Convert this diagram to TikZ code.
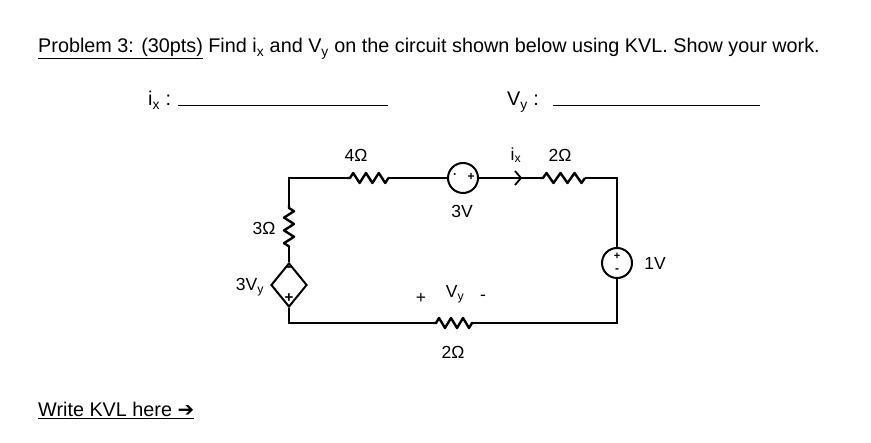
\documentclass[tikz,border=0pt]{standalone}
\usepackage{fontspec}
\setmainfont{Liberation Sans}
\newfontfamily\djv{DejaVu Sans}
\usetikzlibrary{arrows.meta,calc,shapes.geometric}
\begin{document}
\begin{tikzpicture}[x=1pt,y=-1pt,line width=2.4pt,
  lbl/.style={font=\fontsize{17.5}{19}\selectfont,inner sep=0pt},
  big/.style={font=\fontsize{19.8}{23}\selectfont,inner sep=0pt,anchor=base west},
  src/.style={circle,draw,line width=2pt,minimum size=30pt,inner sep=0pt},
  dep/.style={draw,line width=2pt,minimum width=36pt,minimum height=44pt,inner sep=0pt,shape=diamond,aspect=0.82}]
\useasboundingbox (0,0) rectangle (871,443);
% corners
\coordinate (tl) at (289,178);
\coordinate (tr) at (617,178);
\coordinate (bl) at (289,323);
\coordinate (br) at (617,323);
\coordinate (r1a) at (347,178); \coordinate (r1b) at (388,178);
\coordinate (r2a) at (540,178); \coordinate (r2b) at (585,178);
\coordinate (r3a) at (289,205); \coordinate (r3b) at (289,247);
\coordinate (r4a) at (433,323); \coordinate (r4b) at (473,323);
\node[src] (s3) at (463,178) {};
\node[src] (s1) at (617,263) {};
\node[dep] (d) at (289,285) {};
% zigzags
\draw[line join=round] (r1a) -- ++(3,0) \foreach \i in {0,...,5}{ -- ++(3.2,{ifthenelse(mod(\i,2)==0,-5,5)}) -- ++(3.2,{ifthenelse(mod(\i,2)==0,5,-5)})} -- (r1b);
\draw[line join=round] (r2a) -- ++(3,0) \foreach \i in {0,...,5}{ -- ++(3.5,{ifthenelse(mod(\i,2)==0,-5,5)}) -- ++(3.5,{ifthenelse(mod(\i,2)==0,5,-5)})} -- (r2b);
\draw[line join=round] (r4a) -- ++(3,0) \foreach \i in {0,...,5}{ -- ++(3.0,{ifthenelse(mod(\i,2)==0,-5,5)}) -- ++(3.0,{ifthenelse(mod(\i,2)==0,5,-5)})} -- (r4b);
\draw[line join=round] (r3a) -- ++(0,3) \foreach \i in {0,...,5}{ -- ++({ifthenelse(mod(\i,2)==0,5,-5)},3.2) -- ++({ifthenelse(mod(\i,2)==0,-5,5)},3.2)} -- (r3b);
% wires
\draw (r3a) -- (tl) -- (r1a);
\draw (r1b) -- (s3.west);
\draw (s3.east) -- (r2a);
\draw (r2b) -- (tr) -- (s1.north);
\draw (s1.south) -- (br) -- (r4b);
\draw (r4a) -- (bl) -- (d.south);
\draw (d.north) -- (r3b);
% ix arrow
\coordinate (ax) at (521,178);
\draw[line width=1.8pt] ($(ax)+(-6,-7)$) -- (ax) -- ($(ax)+(-6,7)$);
% source marks
\node[lbl,font=\bfseries\fontsize{12}{12}\selectfont] at (455,176) {·};
\node[lbl,font=\bfseries\fontsize{12}{12}\selectfont] at (471,177) {+};
\node[lbl,font=\bfseries\fontsize{11}{11}\selectfont] at (617,256) {+};
\node[lbl,font=\bfseries\fontsize{12}{12}\selectfont] at (617,271) {-};
\node[lbl,font=\bfseries\fontsize{16}{16}\selectfont] at (289,269) {-};
\node[lbl,font=\bfseries\fontsize{15}{15}\selectfont] at (289,298) {+};
% labels
\node[lbl] (l4) at (356,155) {4Ω};
\node[lbl] (l3v) at (462,211) {3V};
\node[lbl] (lix) at (516,155) {i\textsubscript{x}};
\node[lbl] (l2a) at (560,155) {2Ω};
\node[lbl] (l3) at (264,228) {3Ω};
\node[lbl] (l3vy) at (250,287) {3V\textsubscript{y}};
\node[lbl] (l1v) at (655,263) {1V};
\node[lbl] (lp) at (421,298) {+};
\node[lbl] (lvy) at (455,294) {V\textsubscript{y}};
\node[lbl] (lm) at (483,298) {-};
\node[lbl] (l2b) at (453,352) {2Ω};
% header
\node[big] (title) at (37,53) {\underline{Problem 3: (30pts)} Find i\textsubscript{x} and V\textsubscript{y} on the circuit shown below using KVL. Show your work.};
\node[big] (ixl) at (147,106) {i\textsubscript{x} :};
\draw[line width=1pt] (178,106) -- (388,106);
\node[big] (vyl) at (506,106) {V\textsubscript{y} :};
\draw[line width=1pt] (553,106) -- (760,106);
\node[big] (kvl) at (37,417) {\underline{Write KVL here {\djv\bfseries ➔}}};
\end{tikzpicture}
\end{document}
